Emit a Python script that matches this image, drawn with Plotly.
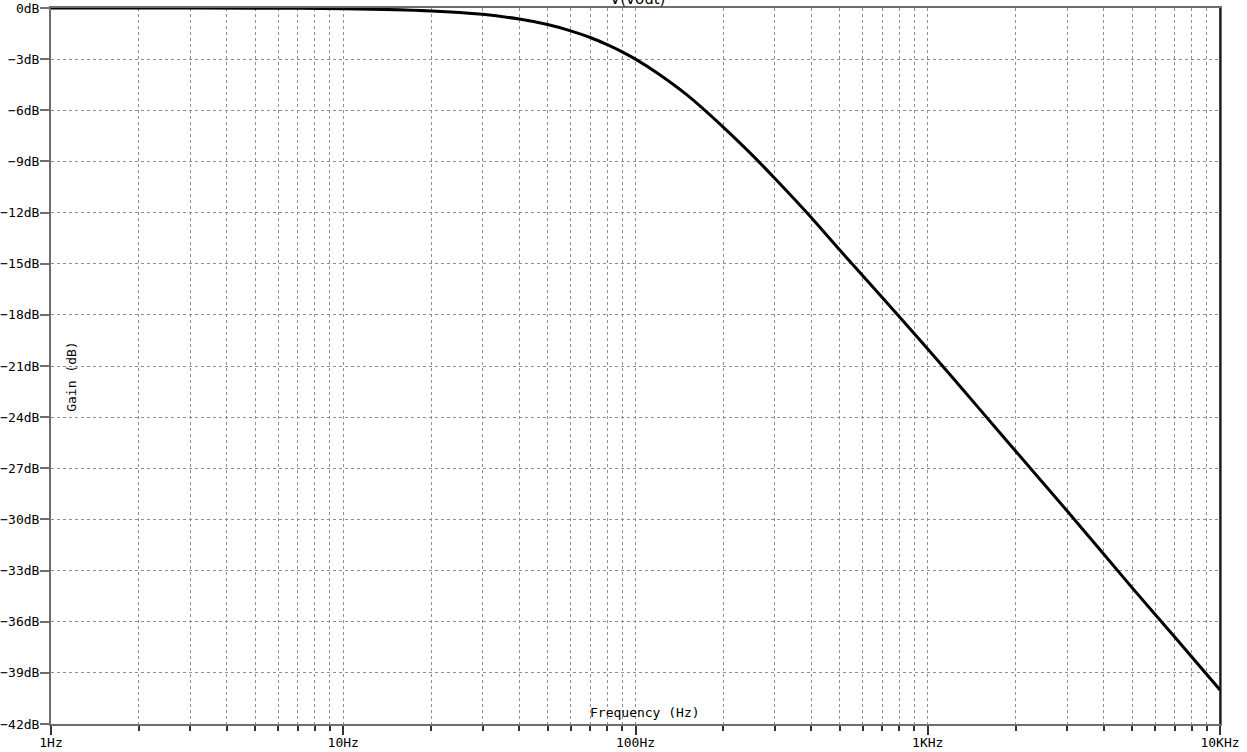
import plotly.graph_objects as go

# Data (frequency in Hz, gain in dB)
freq_hz = [1, 2, 5, 10, 20, 30, 40, 50, 60, 70, 80, 90, 100, 120, 150, 200, 250, 300,
           400, 500, 700, 1000, 1500, 2000, 3000, 5000, 7000, 10000]
gain_db = [0.0, 0.0, -0.01, -0.04, -0.17, -0.37, -0.65, -0.97, -1.34, -1.73, -2.15, -2.57,
           -3.0, -3.87, -5.1, -7.0, -8.6, -10.0, -12.3, -14.2, -17.0, -20.0, -23.5,
           -26.0, -29.5, -34.0, -36.9, -40.0]

x_tickvals = [1, 10, 100, 1000, 10000]
x_ticktext = ["1Hz", "10Hz", "100Hz", "1KHz", "10KHz"]
y_tickvals = [0, -3, -6, -9, -12, -15, -18, -21, -24, -27, -30, -33, -36, -39, -42]
y_ticktext = ["0dB" if v == 0 else "\u2212%ddB" % (-v) for v in y_tickvals]

AXIS = "#6e6e6e"
GRID = "#8f8f8f"
MONO = "DejaVu Sans Mono"

fig = go.Figure()
fig.add_trace(go.Scatter(
    x=freq_hz, y=gain_db, mode="lines",
    line=dict(color="black", width=3, shape="spline", smoothing=0.6),
    showlegend=False, hoverinfo="skip",
))

fig.update_layout(
    width=1247, height=752,
    margin=dict(l=51, r=27, t=8, b=28),
    paper_bgcolor="white", plot_bgcolor="white",
    font=dict(family=MONO, size=13, color="black"),
    xaxis=dict(
        type="log", range=[0, 4], automargin=False,
        tickvals=x_tickvals, ticktext=x_ticktext,
        ticks="outside", ticklen=9, tickwidth=1.5, tickcolor="#333",
        ticklabelstandoff=-4,
        showline=True, linecolor=AXIS, linewidth=2, mirror=True,
        showgrid=True, gridcolor=GRID, gridwidth=1, griddash="3px,3px",
        tickfont=dict(family=MONO, size=13),
        minor=dict(dtick="D1", ticks="outside", ticklen=5, tickcolor="#333",
                   showgrid=True, gridcolor=GRID, gridwidth=1, griddash="3px,3px"),
        zeroline=False,
    ),
    yaxis=dict(
        range=[-42, 0], automargin=False,
        tickvals=y_tickvals, ticktext=y_ticktext,
        ticks="outside", ticklen=9, tickwidth=1.5, tickcolor=AXIS,
        ticklabelstandoff=-2,
        showline=True, linecolor=AXIS, linewidth=2, mirror=True,
        showgrid=True, gridcolor=GRID, gridwidth=1, griddash="3px,3px",
        tickfont=dict(family=MONO, size=13),
        zeroline=False,
    ),
    shapes=[
        dict(type="line", xref="paper", yref="paper", x0=1, x1=1, y0=0, y1=1,
             line=dict(color="black", width=1.5)),
    ],
    annotations=[
        dict(text="V(vout)", xref="paper", yref="paper", x=0.502, y=1,
             xanchor="center", yanchor="bottom", yshift=-2, showarrow=False,
             font=dict(family="DejaVu Sans", size=15, color="black")),
        dict(text="Gain (dB)", xref="paper", yref="paper", x=0.018, y=0.485,
             xanchor="center", yanchor="middle", textangle=-90, showarrow=False,
             font=dict(family=MONO, size=13, color="black")),
        dict(text="Frequency (Hz)", xref="paper", yref="paper", x=0.508, y=0,
             xanchor="center", yanchor="bottom", yshift=2, showarrow=False,
             font=dict(family=MONO, size=13, color="black")),
    ],
)

fig.write_html("out.html", config={"displayModeBar": False},
               post_script="document.body.style.margin='0';document.body.style.overflow='hidden';")
